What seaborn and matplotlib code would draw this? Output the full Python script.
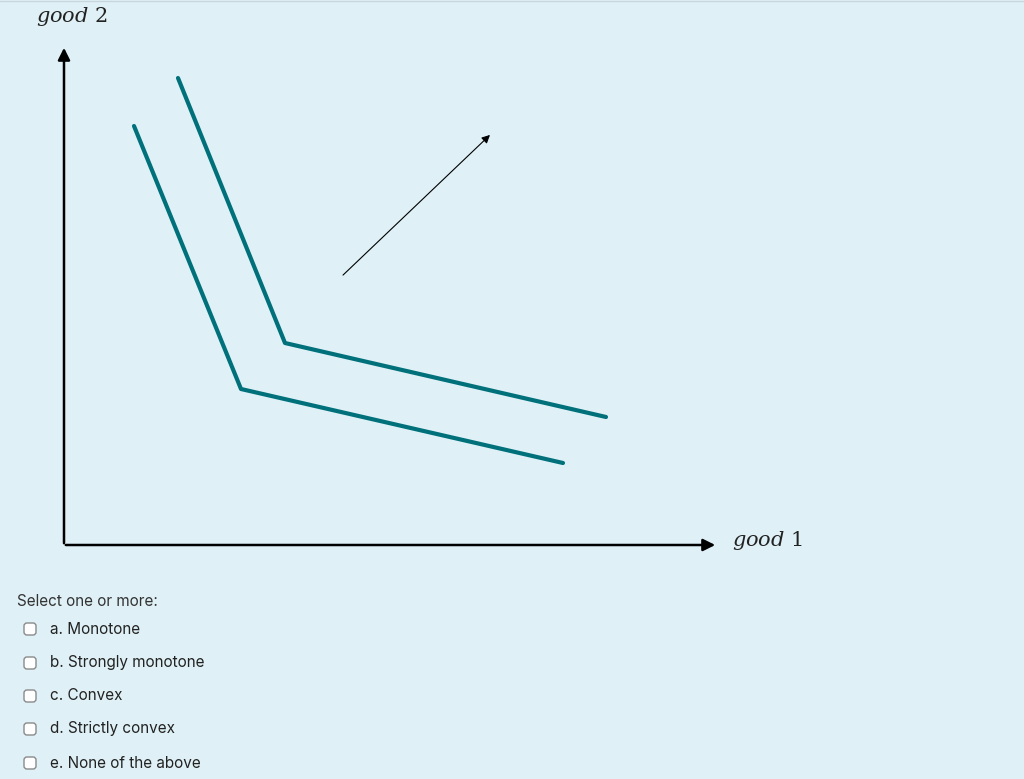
import matplotlib
matplotlib.use("Agg")
import matplotlib.pyplot as plt
import seaborn as sns
from matplotlib.patches import FancyBboxPatch

sns.set_style("white")
plt.rcParams['font.family'] = ['Inter', 'DejaVu Sans']
plt.rcParams['mathtext.fontset'] = 'dejavuserif'

# indifference curves (screen-like units, y grows downward)
curve_lo_x = [134, 241, 563]
curve_lo_y = [126, 389, 463]
curve_hi_x = [178, 285, 606]
curve_hi_y = [78, 343, 417]
arrow_start = (341, 277)
arrow_end = (492, 133)
origin = (64, 545)
x_axis_end = 718
y_axis_end = 45

options = ["a. Monotone", "b. Strongly monotone", "c. Convex",
           "d. Strictly convex", "e. None of the above"]
option_y = [629, 663, 696, 729, 763]

bg = "#dff1f7"
teal = "#00707a"

fig = plt.figure(figsize=(10.24, 7.79), dpi=100, facecolor=bg)
ax = fig.add_axes([0, 0, 1, 1])
ax.set_facecolor(bg)
ax.set_xlim(0, 1024)
ax.set_ylim(779, 0)
ax.axis("off")

ax.axhline(0.5, color="#c8d6dc", lw=1)

sns.lineplot(x=curve_lo_x, y=curve_lo_y, sort=False, ax=ax, color=teal, lw=3)
sns.lineplot(x=curve_hi_x, y=curve_hi_y, sort=False, ax=ax, color=teal, lw=3)

ax.annotate("", xy=arrow_end, xytext=arrow_start,
            arrowprops=dict(arrowstyle="-|>", color="black", lw=0.8, mutation_scale=12))
ax.annotate("", xy=(x_axis_end, origin[1]), xytext=(origin[0] - 1, origin[1]),
            arrowprops=dict(arrowstyle="-|>", color="black", lw=1.8, mutation_scale=18))
ax.annotate("", xy=(origin[0], y_axis_end), xytext=(origin[0], origin[1] + 1),
            arrowprops=dict(arrowstyle="-|>", color="black", lw=1.8, mutation_scale=18))

ax.text(36, 16, r"$good$ 2", fontsize=15, family="DejaVu Serif", va="center", color="#222")
ax.text(732, 541, r"$good$ 1", fontsize=15, family="DejaVu Serif", va="center", color="#222")

ax.text(17, 601, "Select one or more:", fontsize=11, va="center", color="#333")
for label, y in zip(options, option_y):
    ax.add_patch(FancyBboxPatch((24, y - 6), 12, 12, boxstyle="round,pad=0,rounding_size=3",
                                fc="white", ec="#8a8a8a", lw=1))
    ax.text(50, y, label, fontsize=11, va="center", color="#222")

fig.savefig("out.png", dpi=100, facecolor=bg)
